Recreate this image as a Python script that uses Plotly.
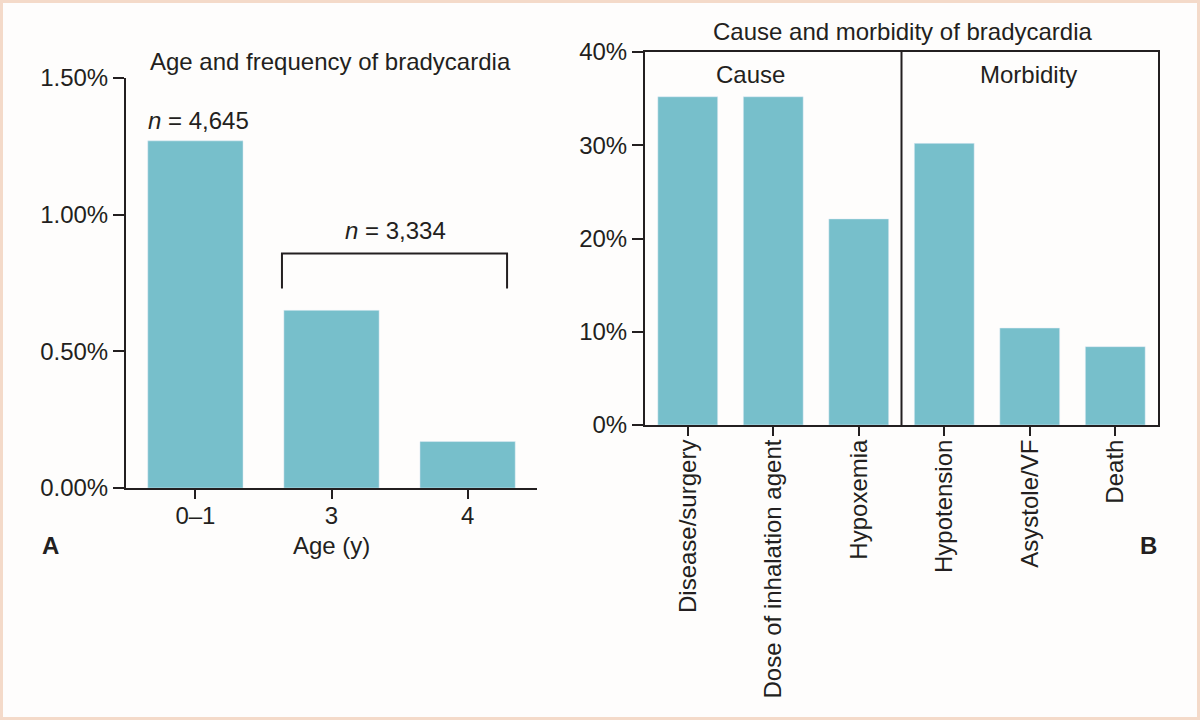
import plotly.graph_objects as go

# panel A: age vs. frequency of bradycardia (%)
age_groups = ["0–1", "3", "4"]
age_freq = [1.27, 0.65, 0.17]
age_ticks = [0, 0.5, 1.0, 1.5]

# panel B: cause and morbidity (%)
cause_labels = ["Disease/surgery", "Dose of inhalation agent", "Hypoxemia",
                "Hypotension", "Asystole/VF", "Death"]
cause_values = [35.2, 35.2, 22.1, 30.2, 10.4, 8.4]
cause_ticks = [0, 10, 20, 30, 40]

BAR = "#77bfcb"
INK = "#231f20"
FONT = "Liberation Sans, Arial, sans-serif"
FS = 24

fig = go.Figure()

fig.add_trace(go.Bar(x=age_groups, y=age_freq, marker_color=BAR, width=0.7,
                     xaxis="x", yaxis="y", hoverinfo="skip"))
fig.add_trace(go.Bar(x=cause_labels, y=cause_values, marker_color=BAR, width=0.7,
                     xaxis="x2", yaxis="y2", hoverinfo="skip"))

axis_common = dict(showgrid=False, zeroline=False, showline=True, linecolor=INK,
                   linewidth=2, ticks="outside", tickcolor=INK, tickwidth=2,
                   automargin=False,
                   tickfont=dict(family=FONT, size=FS, color=INK))

fig.update_layout(
    width=1200, height=720,
    margin=dict(l=0, r=0, t=0, b=0, pad=0),
    paper_bgcolor="#f4dac9",
    plot_bgcolor="rgba(0,0,0,0)",
    showlegend=False,
    font=dict(family=FONT, size=FS, color=INK),
    xaxis=dict(domain=[0.105, 0.4475], range=[-0.51, 2.51], ticklen=9, anchor="y",
               ticklabelstandoff=-4, **axis_common),
    yaxis=dict(domain=[0.3222, 0.8917], range=[0, 1.5], tickvals=age_ticks,
               ticktext=[f"{v:.2f}%" for v in age_ticks], ticklen=11, anchor="x",
               **axis_common),
    xaxis2=dict(domain=[0.5375, 0.965], range=[-0.5, 5.5], tickangle=-90, ticklen=9,
                ticklabelstandoff=-6, mirror=True, anchor="y2", **axis_common),
    yaxis2=dict(domain=[0.4097, 0.9278], range=[0, 40], tickvals=cause_ticks,
                ticktext=[f"{v}%" for v in cause_ticks], ticklen=11, mirror=True,
                anchor="x2", **axis_common),
)

# framed page: thin peach border with white inner card
fig.add_shape(type="rect", xref="paper", yref="paper", x0=0.0025, x1=0.9975,
              y0=0.0042, y1=0.9958, fillcolor="#fefdfc", line_width=0, layer="below")

# bracket over ages 3 and 4
fig.add_shape(type="path", xref="x", yref="y",
              path="M 0.636 0.73 L 0.636 0.858 L 2.29 0.858 L 2.29 0.73",
              line=dict(color=INK, width=2))

# divider between cause and morbidity
fig.add_shape(type="line", xref="x2", yref="y2 domain", x0=2.5, x1=2.5, y0=0, y1=1,
              line=dict(color=INK, width=2))

notes = [
    dict(text="Age and frequency of bradycardia", x=0.275, y=0.914, xref="paper", yref="paper"),
    dict(text="<i>n</i> = 4,645", x=0.025, y=1.343, xref="x", yref="y"),
    dict(text="<i>n</i> = 3,334", x=1.467, y=0.942, xref="x", yref="y"),
    dict(text="Age (y)", x=0.276, y=0.242, xref="paper", yref="paper"),
    dict(text="<b>A</b>", x=0.042, y=0.243, xref="paper", yref="paper"),
    dict(text="Cause and morbidity of bradycardia", x=0.7525, y=0.956, xref="paper", yref="paper"),
    dict(text="Cause", x=0.625, y=0.896, xref="paper", yref="paper"),
    dict(text="Morbidity", x=0.857, y=0.897, xref="paper", yref="paper"),
    dict(text="<b>B</b>", x=0.957, y=0.243, xref="paper", yref="paper"),
]
for n in notes:
    fig.add_annotation(showarrow=False, xanchor="center", yanchor="middle",
                       font=dict(family=FONT, size=FS, color=INK), **n)

fig.write_html("out.html", config={"displayModeBar": False},
               post_script="document.body.style.margin = '0';")
